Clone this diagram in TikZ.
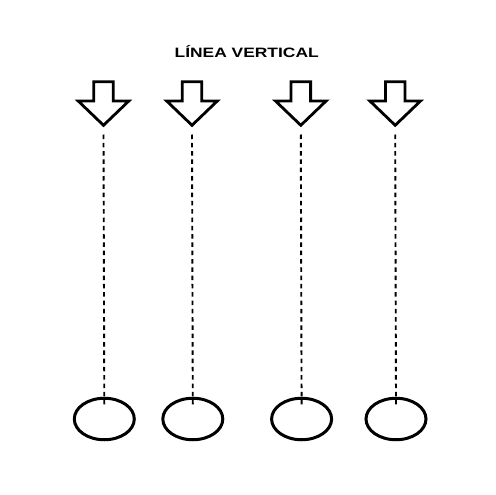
\documentclass[tikz,border=0pt]{standalone}
\usepackage{fontspec}
\setmainfont{Liberation Sans}
\usetikzlibrary{shapes.geometric}
\tikzset{
  downarrow/.style={draw=black, line width=2.8pt, line join=miter, fill=white},
  target/.style={ellipse, draw=black, line width=3pt, minimum width=60pt, minimum height=41.5pt, inner sep=0pt},
  guide/.style={draw=black, line width=1.9pt, dash pattern=on 4.5pt off 3.8pt},
  titletext/.style={font=\bfseries\fontsize{13.6}{15}\selectfont, anchor=base, inner sep=0pt}
}
\begin{document}
\begin{tikzpicture}[x=1pt,y=-1pt]
\useasboundingbox (0,0) rectangle (495,495);
\fill[white] (0,0) rectangle (495,495);
\node[titletext] (title) at (246.7,57.7) {\scalebox{1.28}[1]{LÍNEA VERTICAL}};
\foreach \i/\x in {1/103.5, 2/192, 3/300.8, 4/395.2} {
  \path[downarrow] (\x-9.8,81.8) -- (\x+9.8,81.8) -- (\x+9.8,101) -- (\x+25.3,101)
        -- (\x,125.3) -- (\x-25.3,101) -- (\x-9.8,101) -- cycle;
  \coordinate (a\i) at (\x,134.5);
  \node[target] (e\i) at (\x+0.8,419) {};
  \draw[guide] (a\i) -- ([yshift=-7.5pt]e\i.north);
}
\end{tikzpicture}
\end{document}
